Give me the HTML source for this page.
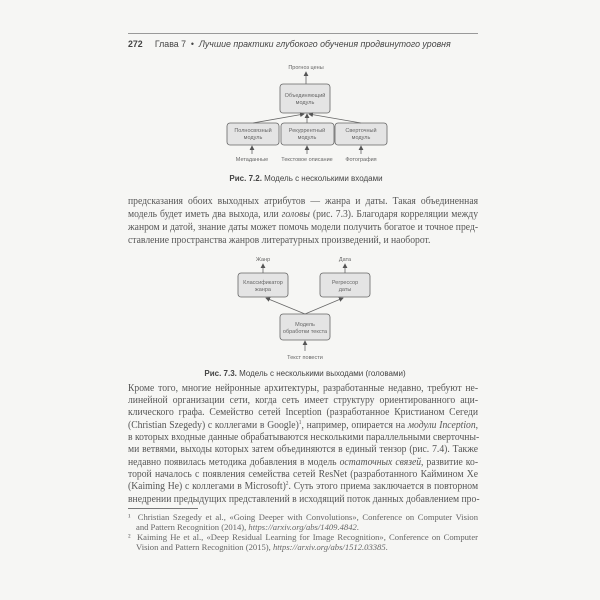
<!DOCTYPE html>
<html><head><meta charset="utf-8"><style>
body{margin:0;width:600px;height:600px;background:#f6f6f4;position:relative;overflow:hidden;font-family:"Liberation Serif",serif;color:#555;}
.l{position:absolute;left:128px;width:392px;font-size:10.8px;line-height:12px;white-space:nowrap;text-align:justify;text-align-last:justify;transform:scaleX(0.893);transform-origin:0 0;}
.f{position:absolute;left:128px;width:350px;font-size:8.6px;line-height:10px;white-space:nowrap;text-align:justify;text-align-last:justify;color:#666;}
.l.n,.f.n{text-align-last:left;}
sup{font-size:6px;line-height:0;vertical-align:0;position:relative;top:-4px;}
.s{font-family:"Liberation Sans",sans-serif;}
svg{position:absolute;left:0;top:0}
</style></head><body>
<div style="position:absolute;left:128px;top:33px;width:350px;border-top:1px solid #999"></div>
<div class="s" style="position:absolute;left:128px;top:39px;font-size:8.8px;color:#444;white-space:nowrap"><b>272</b>&nbsp;&nbsp;&nbsp;&nbsp;&nbsp;Глава 7 &nbsp;•&nbsp; <i>Лучшие практики глубокого обучения продвинутого уровня</i></div>

<svg width="600" height="600" font-family="Liberation Sans, sans-serif" font-size="5.5" fill="#666">
<defs><marker id="a" markerWidth="6" markerHeight="6" refX="5" refY="3" orient="auto"><path d="M0,0 L6,3 L0,6z" fill="#555"/></marker></defs>
<g stroke="#666" stroke-width="0.8">
<rect x="280" y="84" width="50" height="29" rx="3" fill="#e4e4e4"/>
<rect x="227" y="123" width="52" height="22" rx="3" fill="#e4e4e4"/>
<rect x="281" y="123" width="53" height="22" rx="3" fill="#e4e4e4"/>
<rect x="335" y="123" width="52" height="22" rx="3" fill="#e4e4e4"/>
<line x1="306" y1="84" x2="306" y2="72" marker-end="url(#a)"/>
<line x1="253" y1="123" x2="304" y2="114" marker-end="url(#a)"/>
<line x1="307" y1="123" x2="307" y2="114" marker-end="url(#a)"/>
<line x1="361" y1="123" x2="309" y2="114" marker-end="url(#a)"/>
<line x1="252" y1="154" x2="252" y2="146" marker-end="url(#a)"/>
<line x1="307" y1="154" x2="307" y2="146" marker-end="url(#a)"/>
<line x1="361" y1="154" x2="361" y2="146" marker-end="url(#a)"/>
<rect x="238" y="273" width="50" height="24" rx="3" fill="#e4e4e4"/>
<rect x="320" y="273" width="50" height="24" rx="3" fill="#e4e4e4"/>
<rect x="280" y="314" width="50" height="26" rx="3" fill="#e4e4e4"/>
<line x1="263" y1="273" x2="263" y2="264" marker-end="url(#a)"/>
<line x1="345" y1="273" x2="345" y2="264" marker-end="url(#a)"/>
<line x1="305" y1="314" x2="266" y2="298" marker-end="url(#a)"/>
<line x1="305" y1="314" x2="343" y2="298" marker-end="url(#a)"/>
<line x1="305" y1="351" x2="305" y2="341" marker-end="url(#a)"/>
</g>
<g text-anchor="middle">
<text x="306" y="69">Прогноз цены</text>
<text x="305" y="97">Объединяющий</text><text x="305" y="104">модуль</text>
<text x="253" y="132">Полносвязный</text><text x="253" y="139">модуль</text>
<text x="307" y="132">Рекуррентный</text><text x="307" y="139">модуль</text>
<text x="361" y="132">Сверточный</text><text x="361" y="139">модуль</text>
<text x="252" y="161">Метаданные</text>
<text x="307" y="161">Текстовое описание</text>
<text x="361" y="161">Фотография</text>
<text x="263" y="261">Жанр</text><text x="345" y="261">Дата</text>
<text x="263" y="284">Классификатор</text><text x="263" y="291">жанра</text>
<text x="345" y="284">Регрессор</text><text x="345" y="291">даты</text>
<text x="305" y="326">Модель</text><text x="305" y="333">обработки текста</text>
<text x="305" y="359">Текст повести</text>
</g>
<g font-size="8" fill="#444" text-anchor="middle">
<text x="306" y="181"><tspan font-weight="bold">Рис. 7.2.</tspan> Модель с несколькими входами</text>
<text x="305" y="376"><tspan font-weight="bold">Рис. 7.3.</tspan> Модель с несколькими выходами (головами)</text>
</g>
</svg>

<div class="l" style="top:195px">предсказания обоих выходных атрибутов — жанра и даты. Такая объединенная</div>
<div class="l" style="top:208px">модель будет иметь два выхода, или <i>головы</i> (рис. 7.3). Благодаря корреляции между</div>
<div class="l" style="top:221px">жанром и датой, знание даты может помочь модели получить богатое и точное пред-</div>
<div class="l n" style="top:234px">ставление пространства жанров литературных произведений, и наоборот.</div>

<div class="l" style="top:382px">Кроме того, многие нейронные архитектуры, разработанные недавно, требуют не-</div>
<div class="l" style="top:394px">линейной организации сети, когда сеть имеет структуру ориентированного аци-</div>
<div class="l" style="top:406px">клического графа. Семейство сетей Inception (разработанное Кристианом Сегеди</div>
<div class="l" style="top:419px">(Christian Szegedy) с коллегами в Google)<sup>1</sup>, например, опирается на <i>модули Inception</i>,</div>
<div class="l" style="top:431px">в которых входные данные обрабатываются несколькими параллельными сверточны-</div>
<div class="l" style="top:443px">ми ветвями, выходы которых затем объединяются в единый тензор (рис. 7.4). Также</div>
<div class="l" style="top:456px">недавно появилась методика добавления в модель <i>остаточных связей</i>, развитие ко-</div>
<div class="l" style="top:468px">торой началось с появления семейства сетей ResNet (разработанного Каймином Хе</div>
<div class="l" style="top:480px">(Kaiming He) с коллегами в Microsoft)<sup>2</sup>. Суть этого приема заключается в повторном</div>
<div class="l" style="top:493px">внедрении предыдущих представлений в исходящий поток данных добавлением про-</div>

<div style="position:absolute;left:128px;top:508px;width:70px;border-top:1px solid #777"></div>
<div class="f" style="top:512px">¹ &nbsp;Christian Szegedy et al., «Going Deeper with Convolutions», Conference on Computer Vision</div>
<div class="f n" style="top:522px;left:136px">and Pattern Recognition (2014), <i>https://arxiv.org/abs/1409.4842</i>.</div>
<div class="f" style="top:532px">² &nbsp;Kaiming He et al., «Deep Residual Learning for Image Recognition», Conference on Computer</div>
<div class="f n" style="top:542px;left:136px">Vision and Pattern Recognition (2015), <i>https://arxiv.org/abs/1512.03385</i>.</div>
</body></html>
